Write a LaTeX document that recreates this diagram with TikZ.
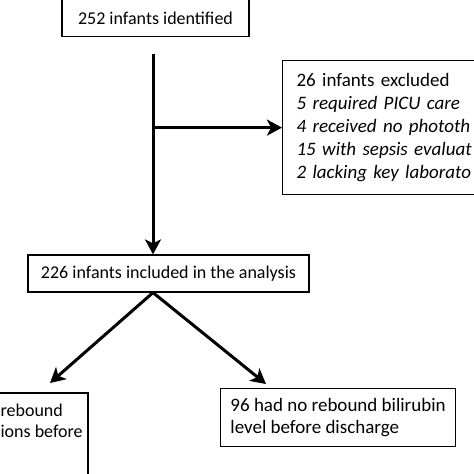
\documentclass[tikz,border=0pt]{standalone}
\usepackage{fontspec}
\setmainfont{Carlito}
\usetikzlibrary{positioning,arrows.meta,calc}
\tikzset{
  >={Stealth[length=15pt,width=16pt,inset=4pt]},
  box/.style={draw, line width=1.2pt, inner sep=0pt, font=\fontsize{18}{21}\selectfont},
  lower/.style={font=\fontsize{19}{21.5}\selectfont},
  flow/.style={->, line width=3pt},
}

\begin{document}
\begin{tikzpicture}[x=1pt,y=-1pt]
\useasboundingbox (0,0) rectangle (474,474);
\node[box, minimum width=187pt, minimum height=37pt] (ident) at (155.5,18) {252 infants identified};
\node[box, anchor=north west, minimum width=240pt, minimum height=134pt, align=left,
      text width=212pt, inner xsep=14pt, font=\fontsize{19}{23}\selectfont] (excl) at (282,60)
  {26 infants excluded\\ \textit{5 required PICU care}\\ \textit{4 received no phototh}\\
   \textit{15 with sepsis evaluat}\\ \textit{2 lacking key laborato}};
\node[box, minimum width=281pt, minimum height=37pt] (incl) at (168.5,273.5) {226 infants included in the analysis};
\node[box, lower, anchor=north west, minimum width=235pt, minimum height=58pt, align=left] (norebound) at (220,388)
  {96 had no rebound bilirubin\\ level before discharge};
\node[box, font=\fontsize{18}{21}\selectfont, draw=none, anchor=north west, align=left, inner xsep=0pt,
      inner ysep=10pt] (rebound) at (0,393) {rebound\\ ions before};
\draw[line width=1.2pt] (rebound.north west) ++(-20pt,0) -- ([xshift=88pt]rebound.north west) -- ++(0,-95pt);

\coordinate (trunk) at (153,54);
\coordinate (lefttip) at (50,383);
\coordinate (righttip) at (266,384);
\draw[flow] (trunk) -- (trunk |- incl.north);
\draw[flow] (trunk |- excl.west) -- (excl.west);
\draw[flow] (trunk |- incl.south) -- (lefttip);
\draw[flow] (trunk |- incl.south) -- (righttip);
\end{tikzpicture}
\end{document}
